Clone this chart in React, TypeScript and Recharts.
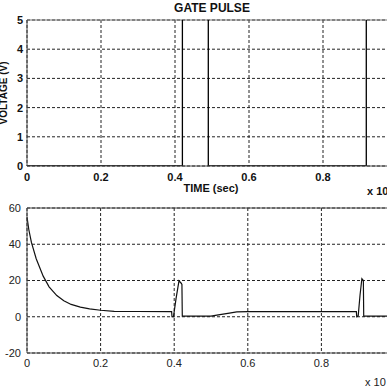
import React from "react";
import { LineChart, Line, XAxis, YAxis, CartesianGrid, ReferenceLine } from "recharts";

// Top panel: gate pulse (time in units of x10^n sec, voltage V); high level runs above the 5 V axis limit
const gateTime = [0, 0.42, 0.42, 0.49, 0.49, 0.917, 0.917, 1.0];
const gateVolt = [0, 0, 6, 6, 0, 0, 6, 6];

// Bottom panel: response
const respTime = [
  0, 0.005, 0.012, 0.025, 0.044, 0.06, 0.081, 0.1, 0.12, 0.145, 0.17, 0.2, 0.237, 0.3,
  0.393, 0.394, 0.398, 0.405, 0.413, 0.419, 0.421, 0.422, 0.5, 0.52, 0.55, 0.57, 0.6,
  0.895, 0.896, 0.9, 0.905, 0.91, 0.914, 0.915, 1.0,
];
const respVal = [
  55, 48, 41, 32, 22.4, 16.5, 11.7, 8.8, 6.8, 5.3, 4.3, 3.6, 3.0, 2.9,
  2.8, 0, 0, 10, 19.8, 18.5, 17.8, 0.3, 0.3, 1.0, 2.0, 2.7, 2.8,
  2.8, 0, 0.5, 12, 21, 20, 0.3, 0.3,
];

const xTicks = [0, 0.2, 0.4, 0.6, 0.8];
const topYTicks = [0, 1, 2, 3, 4, 5];
const bottomYTicks = [-20, 0, 20, 40, 60];

const gateData = gateTime.map((t, i) => ({ t, v: gateVolt[i] }));
const respData = respTime.map((t, i) => ({ t, v: respVal[i] }));

const FONT = "'Liberation Sans', Arial, sans-serif";
const fmt = (v: number) => String(v);

export default function App() {
  return (
    <div
      style={{
        position: "absolute",
        left: 0,
        top: 0,
        width: 387,
        height: 387,
        overflow: "hidden",
        background: "#fff",
        fontFamily: FONT,
      }}
    >
      <div style={{ position: "absolute", left: 0, top: 0 }}>
        <LineChart
          width={420}
          height={190}
          data={gateData}
          margin={{ top: 20, right: 23, bottom: 0, left: 0 }}
        >
          <CartesianGrid stroke="#222" strokeDasharray="3 2" />
          <XAxis
            dataKey="t"
            type="number"
            domain={[0, 1]}
            ticks={xTicks}
            tickFormatter={fmt}
            height={24}
            tickLine={false}
            tickSize={0}
            tickMargin={7}
            axisLine={{ stroke: "#444" }}
            tick={{ fill: "#111", fontSize: 11, fontWeight: 700, fontFamily: FONT }}
          />
          <YAxis
            type="number"
            domain={[0, 5]}
            allowDataOverflow
            ticks={topYTicks}
            width={27}
            tickLine={false}
            tickSize={0}
            tickMargin={4}
            axisLine={{ stroke: "#444" }}
            tick={{ fill: "#111", fontSize: 11, fontWeight: 700, fontFamily: FONT }}
          />
          <ReferenceLine y={5} stroke="#777" />
          <Line
            dataKey="v"
            type="linear"
            stroke="#000"
            strokeWidth={1.3}
            dot={false}
            isAnimationActive={false}
          />
        </LineChart>
      </div>
      <div style={{ position: "absolute", left: 0, top: 190 }}>
        <LineChart
          width={420}
          height={187}
          data={respData}
          margin={{ top: 18, right: 25, bottom: 0, left: 0 }}
        >
          <CartesianGrid stroke="#222" strokeDasharray="3 2" />
          <XAxis
            dataKey="t"
            type="number"
            domain={[0, 1]}
            ticks={xTicks}
            tickFormatter={fmt}
            height={24}
            tickLine={false}
            tickSize={0}
            tickMargin={6}
            axisLine={{ stroke: "#444" }}
            tick={{ fill: "#222", fontSize: 11, fontFamily: FONT }}
          />
          <YAxis
            type="number"
            domain={[-20, 60]}
            ticks={bottomYTicks}
            width={27}
            tickLine={false}
            tickSize={0}
            tickMargin={6}
            axisLine={{ stroke: "#444" }}
            tick={{ fill: "#222", fontSize: 11, fontFamily: FONT }}
          />
          <ReferenceLine y={60} stroke="#444" />
          <Line
            dataKey="v"
            type="linear"
            stroke="#111"
            strokeWidth={1.2}
            dot={false}
            isAnimationActive={false}
          />
        </LineChart>
      </div>
      <div
        style={{
          position: "absolute",
          left: 150,
          top: 1,
          width: 124,
          textAlign: "center",
          fontSize: 12,
          fontWeight: 700,
          color: "#111",
          lineHeight: "14px",
        }}
      >
        GATE PULSE
      </div>
      <div
        style={{
          position: "absolute",
          left: 150,
          top: 181,
          width: 122,
          textAlign: "center",
          fontSize: 11,
          fontWeight: 700,
          color: "#111",
          lineHeight: "14px",
        }}
      >
        TIME (sec)
      </div>
      <div
        style={{
          position: "absolute",
          left: 367,
          top: 184,
          fontSize: 11,
          fontWeight: 700,
          color: "#111",
          lineHeight: "14px",
          whiteSpace: "nowrap",
        }}
      >
        x 10
      </div>
      <div
        style={{
          position: "absolute",
          left: 365,
          top: 375,
          fontSize: 11,
          color: "#222",
          lineHeight: "14px",
          whiteSpace: "nowrap",
        }}
      >
        x 10
      </div>
      <div
        style={{
          position: "absolute",
          left: -36,
          top: 86,
          width: 80,
          textAlign: "center",
          fontSize: 10,
          fontWeight: 700,
          color: "#111",
          lineHeight: "14px",
          transform: "rotate(-90deg)",
          whiteSpace: "nowrap",
        }}
      >
        VOLTAGE (V)
      </div>
    </div>
  );
}
